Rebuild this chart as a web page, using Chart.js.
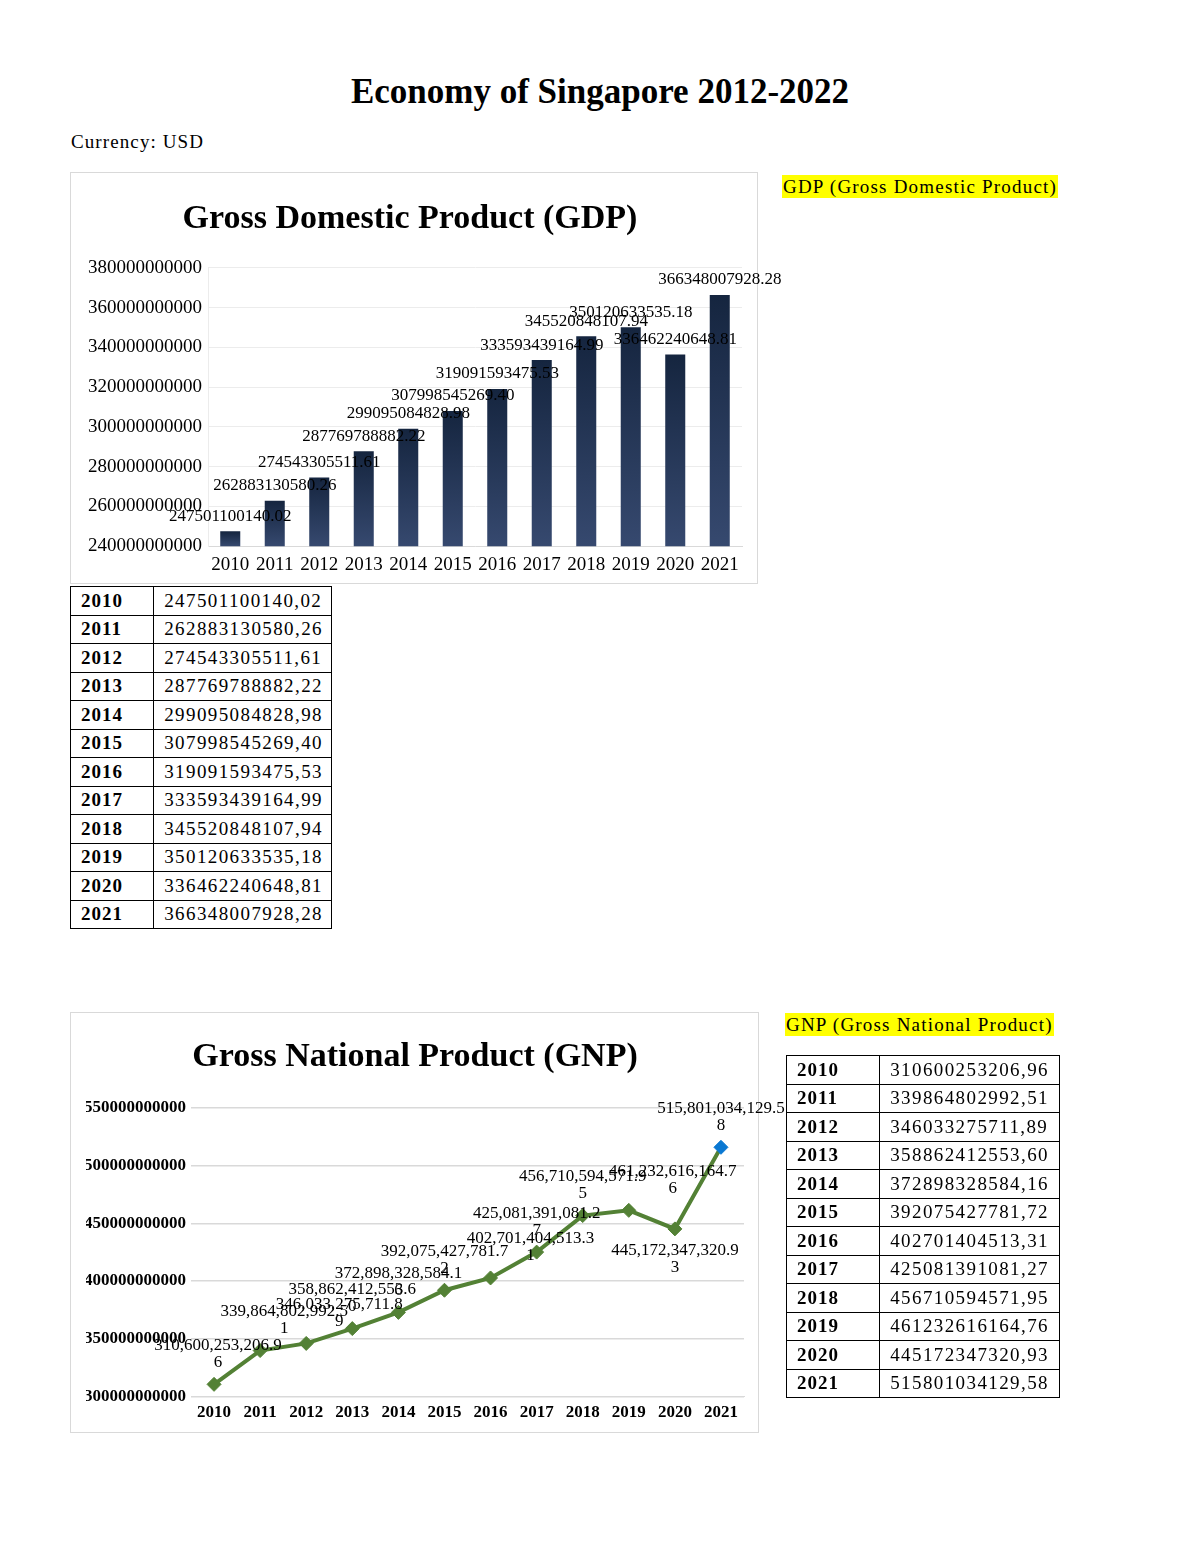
<!DOCTYPE html>
<html lang="en">
<head>
    <meta charset="UTF-8">
    <title>Economy of Singapore 2012-2022</title>
    <style>
        body {
            margin: 0;
            background: #fff;
            font-family: "Liberation Serif", "Times New Roman", serif;
            color: #000;
        }
        #page {
            position: relative;
            width: 1200px;
            height: 1553px;
            overflow: hidden;
        }
        h1 {
            position: absolute;
            left: 0;
            top: 70px;
            width: 1200px;
            margin: 0;
            text-align: center;
            font-size: 35px;
            line-height: 44px;
            font-weight: bold;
        }
        .currency {
            position: absolute;
            left: 71px;
            top: 131px;
            font-size: 19px;
            letter-spacing: 1.1px;
        }
        .box {
            position: absolute;
            border: 1px solid #d9d9d9;
        }
        canvas {
            position: absolute;
        }
        .mark {
            position: absolute;
            background: #ffff00;
            font-size: 19px;
            line-height: 23px;
            letter-spacing: 1.2px;
            padding: 0 1px;
        }
        table {
            position: absolute;
            border-collapse: collapse;
        }
        td {
            border: 1.5px solid #000;
            font-size: 19px;
            padding: 0 0 0 10px;
            letter-spacing: 1.4px;
            white-space: nowrap;
        }
        td.yr { font-weight: bold; letter-spacing: 1px; }
    </style>
    <script src="https://cdn.jsdelivr.net/npm/chart.js"></script>
</head>
<body>
<div id="page">
    <h1>Economy of Singapore 2012-2022</h1>
    <div class="currency">Currency: USD</div>

    <div class="box" style="left:70px; top:172px; width:686px; height:410px;"></div>
    <canvas id="gdpChart" width="740" height="412" style="left:70px; top:172px;"></canvas>
    <div class="mark" style="left:782px; top:175px;">GDP (Gross Domestic Product)</div>
    <table id="gdpTable" style="left:70px; top:586px; width:262px;">
        <colgroup><col style="width:84px"><col style="width:178px"></colgroup>
        <tbody></tbody>
    </table>

    <div class="box" style="left:70px; top:1012px; width:687px; height:419px;"></div>
    <canvas id="gnpChart" width="740" height="421" style="left:70px; top:1012px;"></canvas>
    <div class="mark" style="left:785px; top:1013px;">GNP (Gross National Product)</div>
    <table id="gnpTable" style="left:786px; top:1055px; width:274px;">
        <colgroup><col style="width:94px"><col style="width:180px"></colgroup>
        <tbody></tbody>
    </table>
</div>

<script>
    const years = ['2010', '2011', '2012', '2013', '2014', '2015', '2016', '2017', '2018', '2019', '2020', '2021'];

    const gdpValues = [
        247501100140.02, 262883130580.26, 274543305511.61, 287769788882.22,
        299095084828.98, 307998545269.40, 319091593475.53, 333593439164.99,
        345520848107.94, 350120633535.18, 336462240648.81, 366348007928.28
    ];

    const gnpValues = [
        310600253206.96, 339864802992.51, 346033275711.89, 358862412553.60,
        372898328584.16, 392075427781.72, 402701404513.31, 425081391081.27,
        456710594571.95, 461232616164.76, 445172347320.93, 515801034129.58
    ];

    const gdpAxis = { min: 240000000000, max: 380000000000, step: 20000000000 };
    const gnpAxis = { min: 300000000000, max: 550000000000, step: 50000000000 };

    const serif = '"Liberation Serif", "Times New Roman", serif';

    // tables under / beside the charts
    function fillTable(id, values) {
        const body = document.querySelector('#' + id + ' tbody');
        years.forEach((y, i) => {
            const tr = document.createElement('tr');
            tr.style.height = '28.5px';
            tr.innerHTML = '<td class="yr">' + y + '</td><td>' + values[i].toFixed(2).replace('.', ',') + '</td>';
            body.appendChild(tr);
        });
    }
    fillTable('gdpTable', gdpValues);
    fillTable('gnpTable', gnpValues);

    // draws the value labels next to each bar / point
    const valueLabels = {
        id: 'valueLabels',
        afterDatasetsDraw(chart, args, opts) {
            if (!opts.format) return;
            const ctx = chart.ctx;
            const meta = chart.getDatasetMeta(0);
            const data = chart.data.datasets[0].data;
            ctx.save();
            ctx.font = opts.font;
            ctx.fillStyle = '#000';
            ctx.textAlign = 'center';
            ctx.textBaseline = 'middle';
            meta.data.forEach((el, i) => {
                const lines = opts.format(data[i]);
                const below = (opts.below || []).includes(i);
                const dx = (opts.shift || [])[i] || 0;
                lines.forEach((txt, k) => {
                    let y;
                    if (below) {
                        y = el.y + opts.gap + k * opts.lineHeight;
                    } else {
                        y = el.y - opts.gap - (lines.length - 1 - k) * opts.lineHeight;
                    }
                    ctx.fillText(txt, el.x + dx, y);
                });
            });
            ctx.restore();
        }
    };

    function barGradient(context) {
        const chart = context.chart;
        const area = chart.chartArea;
        if (!area || context.parsed === undefined) return '#1f3152';
        const top = chart.scales.y.getPixelForValue(context.parsed.y);
        const g = chart.ctx.createLinearGradient(0, top, 0, area.bottom);
        g.addColorStop(0, '#15253f');
        g.addColorStop(1, '#36496f');
        return g;
    }

    new Chart(document.getElementById('gdpChart'), {
        type: 'bar',
        data: {
            labels: years,
            datasets: [{
                data: gdpValues,
                backgroundColor: barGradient,
                barPercentage: 0.45,
                categoryPercentage: 1
            }]
        },
        options: {
            responsive: false,
            animation: false,
            layout: { padding: { left: 8, right: 68, top: 0, bottom: 1 } },
            plugins: {
                legend: { display: false },
                tooltip: { enabled: false },
                title: {
                    display: true,
                    text: 'Gross Domestic Product (GDP)',
                    color: '#000',
                    font: { family: serif, size: 34, weight: 'bold' },
                    padding: { top: 27, bottom: 28 }
                },
                valueLabels: {
                    font: '17px ' + serif,
                    gap: 15,
                    lineHeight: 17,
                    format: v => [v.toFixed(2)]
                }
            },
            scales: {
                x: {
                    grid: { display: false, drawTicks: false },
                    border: { color: '#d9d9d9' },
                    ticks: { color: '#000', padding: 7, font: { family: serif, size: 19 } }
                },
                y: {
                    min: gdpAxis.min,
                    max: gdpAxis.max,
                    afterFit(scale) { scale.width = 130; },
                    grid: { color: '#ececec', drawTicks: false },
                    border: { display: true, color: '#ececec' },
                    ticks: {
                        stepSize: gdpAxis.step,
                        color: '#000',
                        padding: 6,
                        font: { family: serif, size: 19 },
                        callback: v => String(v)
                    }
                }
            }
        },
        plugins: [valueLabels]
    });

    new Chart(document.getElementById('gnpChart'), {
        type: 'line',
        data: {
            labels: years,
            datasets: [{
                data: gnpValues,
                borderColor: '#538135',
                borderWidth: 4,
                pointStyle: 'rectRot',
                pointRadius: 7,
                pointBackgroundColor: c => c.dataIndex === years.length - 1 ? '#0a78d2' : '#538135',
                pointBorderColor: c => c.dataIndex === years.length - 1 ? '#0a78d2' : '#538135',
                pointBorderWidth: 1,
                tension: 0
            }]
        },
        options: {
            responsive: false,
            animation: false,
            layout: { padding: { left: 16, right: 66, top: 0, bottom: 4 } },
            plugins: {
                legend: { display: false },
                tooltip: { enabled: false },
                title: {
                    display: true,
                    text: 'Gross National Product (GNP)',
                    color: '#000',
                    font: { family: serif, size: 34, weight: 'bold' },
                    padding: { top: 25, bottom: 30 }
                },
                valueLabels: {
                    font: '17px ' + serif,
                    gap: 22,
                    lineHeight: 17,
                    below: [10],
                    shift: [4, 24, 33, 0, 0, 0, 40, 0, 0, 44, 0, 0],
                    format: v => {
                        const s = v.toLocaleString('en-US', { minimumFractionDigits: 2, maximumFractionDigits: 2 });
                        return [s.slice(0, 17), s.slice(17)];
                    }
                }
            },
            scales: {
                x: {
                    offset: true,
                    grid: { display: false, drawTicks: false },
                    border: { color: '#d9d9d9' },
                    ticks: { color: '#000', padding: 6, font: { family: serif, size: 17, weight: 'bold' } }
                },
                y: {
                    min: gnpAxis.min,
                    max: gnpAxis.max,
                    afterFit(scale) { scale.width = 105; },
                    grid: { color: '#d9d9d9', lineWidth: 1.5, drawTicks: false },
                    border: { display: false },
                    ticks: {
                        stepSize: gnpAxis.step,
                        color: '#000',
                        padding: 5,
                        font: { family: serif, size: 17, weight: 'bold' },
                        callback: v => String(v)
                    }
                }
            }
        },
        plugins: [valueLabels]
    });
</script>
</body>
</html>
